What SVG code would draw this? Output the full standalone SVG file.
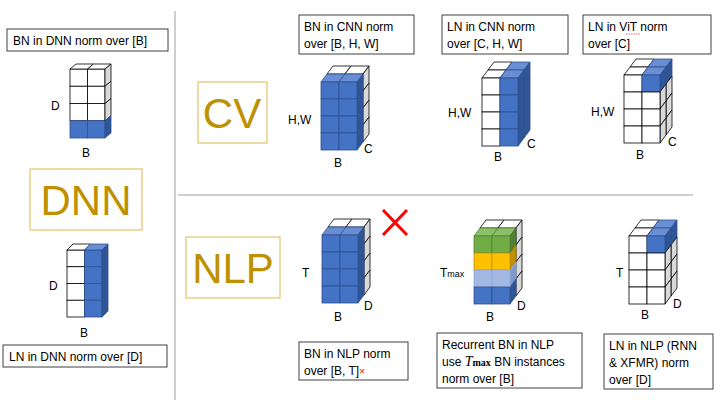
<svg xmlns="http://www.w3.org/2000/svg" xmlns:xlink="http://www.w3.org/1999/xlink" width="720" height="400" viewBox="0 0 720 400">
<style>
text{font-family:"Liberation Sans","Noto Sans",sans-serif;fill:#000}
.lb{font-size:12px}
.bx{fill:#fff;stroke:#404040;stroke-width:1}
.gold{fill:#fff;stroke:#E3C268;stroke-width:1.2}
.big{font-size:42px;fill:#BF9000}
.w{fill:#fff;stroke:#000;stroke-width:.8}
.g{fill:#D9D9D9;stroke:#000;stroke-width:.8}
.b{fill:#4472C4;stroke:#2F528F;stroke-width:.8}
.bt{fill:#6A8ED3;stroke:#2F528F;stroke-width:.8}
.bs{fill:#2F5597;stroke:#2F528F;stroke-width:.8}
.gf{fill:#70AD47;stroke:#548235;stroke-width:.8}
.gt{fill:#8CC068;stroke:#548235;stroke-width:.8}
.gs{fill:#548235;stroke:#3D6125;stroke-width:.8}
.yf{fill:#FFC000;stroke:#C09000;stroke-width:.8}
.ys{fill:#C09000;stroke:#A07800;stroke-width:.8}
.lf{fill:#A3B8E3;stroke:#8FAADC;stroke-width:.8}
.ls{fill:#7F98C9;stroke:#8FAADC;stroke-width:.8}
.div{stroke:#BFBFBF;stroke-width:1.5}
</style>
<defs>
<rect id="f00" x="0" y="0" width="18" height="17"/><rect id="f01" x="18" y="0" width="18" height="17"/>
<rect id="f10" x="0" y="17" width="18" height="17"/><rect id="f11" x="18" y="17" width="18" height="17"/>
<rect id="f20" x="0" y="34" width="18" height="17"/><rect id="f21" x="18" y="34" width="18" height="17"/>
<rect id="f30" x="0" y="51" width="18" height="17"/><rect id="f31" x="18" y="51" width="18" height="17"/>
<polygon id="t00" points="0,0 18,0 24,-8 6,-8"/><polygon id="t01" points="18,0 36,0 42,-8 24,-8"/>
<polygon id="t10" points="6,-8 24,-8 30,-16 12,-16"/><polygon id="t11" points="24,-8 42,-8 48,-16 30,-16"/>
<polygon id="s00" points="36,0 42,-8 42,9 36,17"/><polygon id="s01" points="42,-8 48,-16 48,1 42,9"/>
<polygon id="s10" points="36,17 42,9 42,26 36,34"/><polygon id="s11" points="42,9 48,1 48,18 42,26"/>
<polygon id="s20" points="36,34 42,26 42,43 36,51"/><polygon id="s21" points="42,26 48,18 48,35 42,43"/>
<polygon id="s30" points="36,51 42,43 42,60 36,68"/><polygon id="s31" points="42,43 48,35 48,52 42,60"/>
</defs>

<g id="dividers">
<line class="div" x1="175" y1="11" x2="175" y2="400"/>
<line class="div" x1="178" y1="195" x2="693" y2="195"/>
</g>

<g id="dnn-bn">
<rect class="bx" x="7" y="29" width="161" height="22"/>
<text class="lb" x="13" y="45">BN in DNN norm over [B]</text>
<g transform="translate(70,69)">
<rect class="w" x="0" y="0" width="17.5" height="17.25"/><rect class="w" x="17.5" y="0" width="17.5" height="17.25"/>
<rect class="w" x="0" y="17.25" width="17.5" height="17.25"/><rect class="w" x="17.5" y="17.25" width="17.5" height="17.25"/>
<rect class="w" x="0" y="34.5" width="17.5" height="17.25"/><rect class="w" x="17.5" y="34.5" width="17.5" height="17.25"/>
<rect class="b" x="0" y="51.75" width="17.5" height="17.25"/><rect class="b" x="17.5" y="51.75" width="17.5" height="17.25"/>
<polygon class="w" points="0,0 17.5,0 23.5,-5 6,-5"/><polygon class="w" points="17.5,0 35,0 41,-5 23.5,-5"/>
<polygon class="g" points="35,0 41,-5 41,12.25 35,17.25"/>
<polygon class="g" points="35,17.25 41,12.25 41,29.5 35,34.5"/>
<polygon class="g" points="35,34.5 41,29.5 41,46.75 35,51.75"/>
<polygon class="bs" points="35,51.75 41,46.75 41,64 35,69"/>
</g>
<text class="lb" x="51" y="110">D</text>
<text class="lb" x="82" y="157">B</text>
</g>

<g id="dnn">
<rect class="gold" x="30" y="169" width="112" height="61"/>
<text class="big" x="86" y="215" text-anchor="middle">DNN</text>
</g>

<g id="dnn-ln">
<g transform="translate(67,250)">
<rect class="w" x="0" y="0" width="17.5" height="16.75"/><rect class="b" x="17.5" y="0" width="17.5" height="16.75"/>
<rect class="w" x="0" y="16.75" width="17.5" height="16.75"/><rect class="b" x="17.5" y="16.75" width="17.5" height="16.75"/>
<rect class="w" x="0" y="33.5" width="17.5" height="16.75"/><rect class="b" x="17.5" y="33.5" width="17.5" height="16.75"/>
<rect class="w" x="0" y="50.25" width="17.5" height="16.75"/><rect class="b" x="17.5" y="50.25" width="17.5" height="16.75"/>
<polygon class="w" points="0,0 17.5,0 23.5,-6 6,-6"/><polygon class="bt" points="17.5,0 35,0 41,-6 23.5,-6"/>
<polygon class="bs" points="35,0 41,-6 41,61 35,67"/>
</g>
<text class="lb" x="49" y="290">D</text>
<text class="lb" x="80" y="337">B</text>
<rect class="bx" x="3" y="345" width="164" height="22"/>
<text class="lb" x="9" y="361">LN in DNN norm over [D]</text>
</g>

<g id="cv">
<rect class="gold" x="198" y="82" width="69" height="61"/>
<text class="big" x="232" y="128" text-anchor="middle">CV</text>
</g>

<g id="nlp">
<rect class="gold" x="186" y="237" width="94" height="61"/>
<text class="big" x="233" y="283" text-anchor="middle">NLP</text>
</g>

<g id="bn-cnn">
<rect class="bx" x="299" y="15" width="115" height="39"/>
<text class="lb"><tspan x="304" y="31">BN in CNN norm</tspan><tspan x="304" y="48">over [B, H, W]</tspan></text>
<g transform="translate(321,82)">
<use xlink:href="#t10" class="w"/><use xlink:href="#t11" class="w"/>
<use xlink:href="#t00" class="bt"/><use xlink:href="#t01" class="bt"/>
<use xlink:href="#s01" class="g"/><use xlink:href="#s11" class="g"/><use xlink:href="#s21" class="g"/><use xlink:href="#s31" class="g"/>
<use xlink:href="#s00" class="bs"/><use xlink:href="#s10" class="bs"/><use xlink:href="#s20" class="bs"/><use xlink:href="#s30" class="bs"/>
<use xlink:href="#f00" class="b"/><use xlink:href="#f01" class="b"/><use xlink:href="#f10" class="b"/><use xlink:href="#f11" class="b"/>
<use xlink:href="#f20" class="b"/><use xlink:href="#f21" class="b"/><use xlink:href="#f30" class="b"/><use xlink:href="#f31" class="b"/>
</g>
<text class="lb" x="288" y="124">H,W</text>
<text class="lb" x="334" y="167">B</text>
<text class="lb" x="364" y="153">C</text>
</g>

<g id="ln-cnn">
<rect class="bx" x="442" y="15" width="126" height="39"/>
<text class="lb"><tspan x="447" y="31">LN in CNN norm</tspan><tspan x="447" y="48">over [C, H, W]</tspan></text>
<g transform="translate(482,78)">
<use xlink:href="#t10" class="w"/><use xlink:href="#t11" class="bt"/>
<use xlink:href="#t00" class="w"/><use xlink:href="#t01" class="bt"/>
<use xlink:href="#s01" class="bs"/><use xlink:href="#s11" class="bs"/><use xlink:href="#s21" class="bs"/><use xlink:href="#s31" class="bs"/>
<use xlink:href="#s00" class="bs"/><use xlink:href="#s10" class="bs"/><use xlink:href="#s20" class="bs"/><use xlink:href="#s30" class="bs"/>
<use xlink:href="#f00" class="w"/><use xlink:href="#f01" class="b"/><use xlink:href="#f10" class="w"/><use xlink:href="#f11" class="b"/>
<use xlink:href="#f20" class="w"/><use xlink:href="#f21" class="b"/><use xlink:href="#f30" class="w"/><use xlink:href="#f31" class="b"/>
</g>
<text class="lb" x="448" y="117">H,W</text>
<text class="lb" x="494" y="161">B</text>
<text class="lb" x="527" y="148">C</text>
</g>

<g id="ln-vit">
<rect class="bx" x="583" y="15" width="128" height="39"/>
<text class="lb"><tspan x="588" y="31">LN in ViT norm</tspan><tspan x="588" y="48">over [C]</tspan></text>
<line x1="626" y1="34" x2="640" y2="34" stroke="#E04040" stroke-width=".8" stroke-dasharray="1.5,1"/>
<g transform="translate(624,75)">
<use xlink:href="#t10" class="w"/><use xlink:href="#t11" class="bt"/>
<use xlink:href="#t00" class="w"/><use xlink:href="#t01" class="bt"/>
<use xlink:href="#s01" class="bs"/><use xlink:href="#s11" class="g"/><use xlink:href="#s21" class="g"/><use xlink:href="#s31" class="g"/>
<use xlink:href="#s00" class="bs"/><use xlink:href="#s10" class="g"/><use xlink:href="#s20" class="g"/><use xlink:href="#s30" class="g"/>
<use xlink:href="#f00" class="w"/><use xlink:href="#f01" class="b"/><use xlink:href="#f10" class="w"/><use xlink:href="#f11" class="w"/>
<use xlink:href="#f20" class="w"/><use xlink:href="#f21" class="w"/><use xlink:href="#f30" class="w"/><use xlink:href="#f31" class="w"/>
</g>
<text class="lb" x="591" y="116">H,W</text>
<text class="lb" x="636" y="159">B</text>
<text class="lb" x="668" y="146">C</text>
</g>

<g id="bn-nlp">
<g transform="translate(322,235)">
<use xlink:href="#t10" class="w"/><use xlink:href="#t11" class="w"/>
<use xlink:href="#t00" class="bt"/><use xlink:href="#t01" class="bt"/>
<use xlink:href="#s01" class="g"/><use xlink:href="#s11" class="g"/><use xlink:href="#s21" class="g"/><use xlink:href="#s31" class="g"/>
<use xlink:href="#s00" class="bs"/><use xlink:href="#s10" class="bs"/><use xlink:href="#s20" class="bs"/><use xlink:href="#s30" class="bs"/>
<use xlink:href="#f00" class="b"/><use xlink:href="#f01" class="b"/><use xlink:href="#f10" class="b"/><use xlink:href="#f11" class="b"/>
<use xlink:href="#f20" class="b"/><use xlink:href="#f21" class="b"/><use xlink:href="#f30" class="b"/><use xlink:href="#f31" class="b"/>
</g>
<path d="M383,210 L407,235 M407,210 L383,235" stroke="#FF0000" stroke-width="3"/>
<text class="lb" x="302" y="277">T</text>
<text class="lb" x="334" y="321">B</text>
<text class="lb" x="364" y="310">D</text>
<rect class="bx" x="299" y="342" width="109" height="38"/>
<text class="lb"><tspan x="304" y="358">BN in NLP norm</tspan><tspan x="304" y="375">over [B, T]</tspan><tspan fill="#FF0000" font-size="10">×</tspan></text>
</g>

<g id="rbn-nlp">
<g transform="translate(474,236)">
<use xlink:href="#t10" class="w"/><use xlink:href="#t11" class="w"/>
<use xlink:href="#t00" class="gt"/><use xlink:href="#t01" class="gt"/>
<use xlink:href="#s01" class="g"/><use xlink:href="#s11" class="g"/><use xlink:href="#s21" class="g"/><use xlink:href="#s31" class="g"/>
<use xlink:href="#s00" class="gs"/><use xlink:href="#s10" class="ys"/><use xlink:href="#s20" class="ls"/><use xlink:href="#s30" class="bs"/>
<use xlink:href="#f00" class="gf"/><use xlink:href="#f01" class="gf"/><use xlink:href="#f10" class="yf"/><use xlink:href="#f11" class="yf"/>
<use xlink:href="#f20" class="lf"/><use xlink:href="#f21" class="lf"/><use xlink:href="#f30" class="b"/><use xlink:href="#f31" class="b"/>
</g>
<text class="lb" x="440" y="277">T<tspan font-size="9">max</tspan></text>
<text class="lb" x="486" y="321">B</text>
<text class="lb" x="517" y="310">D</text>
<rect class="bx" x="437" y="333" width="145" height="55"/>
<text class="lb"><tspan x="442" y="349">Recurrent BN in NLP</tspan><tspan x="442" y="366">use <tspan font-family="Liberation Serif,serif" font-style="italic" font-size="14">T</tspan><tspan font-family="Liberation Serif,serif" font-weight="bold" font-size="10">max</tspan> BN instances</tspan><tspan x="442" y="383">norm over [B]</tspan></text>
</g>

<g id="ln-nlp">
<g transform="translate(629,236)">
<use xlink:href="#t10" class="w"/><use xlink:href="#t11" class="bt"/>
<use xlink:href="#t00" class="w"/><use xlink:href="#t01" class="bt"/>
<use xlink:href="#s01" class="bs"/><use xlink:href="#s11" class="g"/><use xlink:href="#s21" class="g"/><use xlink:href="#s31" class="g"/>
<use xlink:href="#s00" class="bs"/><use xlink:href="#s10" class="g"/><use xlink:href="#s20" class="g"/><use xlink:href="#s30" class="g"/>
<use xlink:href="#f00" class="w"/><use xlink:href="#f01" class="b"/><use xlink:href="#f10" class="w"/><use xlink:href="#f11" class="w"/>
<use xlink:href="#f20" class="w"/><use xlink:href="#f21" class="w"/><use xlink:href="#f30" class="w"/><use xlink:href="#f31" class="w"/>
</g>
<text class="lb" x="616" y="277">T</text>
<text class="lb" x="641" y="319">B</text>
<text class="lb" x="673" y="308">D</text>
<rect class="bx" x="604" y="334" width="109" height="55"/>
<text class="lb"><tspan x="609" y="350">LN in NLP (RNN</tspan><tspan x="609" y="367">&amp; XFMR) norm</tspan><tspan x="609" y="384">over [D]</tspan></text>
</g>
</svg>
